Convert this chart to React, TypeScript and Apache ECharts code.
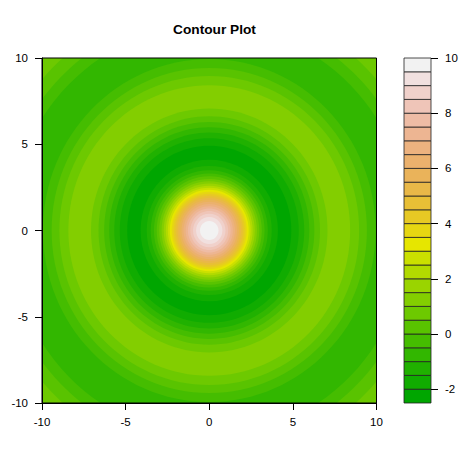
import React, { useEffect, useRef } from "react";
import * as echarts from "echarts";

// ---- data ----
const chartTitle = "Contour Plot";
const axisTicks = [-10, -5, 0, 5, 10];
const legendTicks = [-2, 0, 2, 4, 6, 8, 10];
// contour break levels (step 0.5)
const levels = [
  -2.5, -2, -1.5, -1, -0.5, 0, 0.5, 1, 1.5, 2, 2.5, 3, 3.5, 4, 4.5, 5, 5.5, 6,
  6.5, 7, 7.5, 8, 8.5, 9, 9.5, 10,
];
const domain = [-10, 10];
// surface plotted: z = 10 * sin(r) / r (radially symmetric)
const peak = 10;
function surface(r: number): number {
  return r === 0 ? peak : (peak * Math.sin(r)) / r;
}

// ---- terrain.colors(n) as in R ----
function hsvHex(h: number, s: number, v: number): string {
  const i = Math.floor(h * 6);
  const f = h * 6 - i;
  const p = v * (1 - s);
  const q = v * (1 - s * f);
  const t = v * (1 - s * (1 - f));
  let r = 0, g = 0, b = 0;
  switch (((i % 6) + 6) % 6) {
    case 0: r = v; g = t; b = p; break;
    case 1: r = q; g = v; b = p; break;
    case 2: r = p; g = v; b = t; break;
    case 3: r = p; g = q; b = v; break;
    case 4: r = t; g = p; b = v; break;
    default: r = v; g = p; b = q;
  }
  const hx = (x: number) => Math.round(x * 255).toString(16).padStart(2, "0");
  return "#" + hx(r) + hx(g) + hx(b);
}
function seq(a: number, b: number, n: number): number[] {
  if (n === 1) return [a];
  return Array.from({ length: n }, (_, i) => a + ((b - a) * i) / (n - 1));
}
function terrainColors(n: number): string[] {
  const k = Math.floor(n / 2);
  const out: string[] = [];
  const h1 = seq(4 / 12, 2 / 12, k), s1 = seq(1, 1, k), v1 = seq(0.65, 0.9, k);
  for (let i = 0; i < k; i++) out.push(hsvHex(h1[i], s1[i], v1[i]));
  const m = n - k + 1;
  const h2 = seq(2 / 12, 0, m), s2 = seq(1, 0, m), v2 = seq(0.9, 0.95, m);
  for (let i = 1; i < m; i++) out.push(hsvHex(h2[i], s2[i], v2[i]));
  return out;
}
const nBands = levels.length - 1;
const colors = terrainColors(nBands);

function bandOf(z: number): number {
  for (let i = 0; i < nBands; i++) {
    if (z < levels[i + 1]) return Math.max(0, i);
  }
  return nBands - 1;
}

// radial band boundaries -> list of [outerRadius, band]
function buildRings(): [number, number][] {
  const maxR = Math.hypot(domain[1], domain[1]) + 0.05;
  const step = 0.0005;
  const rings: [number, number][] = [];
  let cur = bandOf(surface(0));
  for (let r = step; r <= maxR; r += step) {
    const b = bandOf(surface(r));
    if (b !== cur) {
      rings.push([r, cur]);
      cur = b;
    }
  }
  rings.push([maxR, cur]);
  return rings.sort((a, b) => b[0] - a[0]);
}
const rings = buildRings();
const legendData = levels.slice(0, -1).map((lo, i) => [lo, levels[i + 1], i]);

const FONT = "'Liberation Sans', Arial, sans-serif";

export default function App() {
  const ref = useRef<HTMLDivElement>(null);
  useEffect(() => {
    if (!ref.current) return;
    const chart = echarts.init(ref.current, undefined, { renderer: "svg" });
    const plot = { left: 42, top: 58, width: 334.5, height: 345 };
    const leg = { left: 404, top: 58, width: 27, height: 345 };
    chart.setOption({
      animation: false,
      backgroundColor: "#ffffff",
      textStyle: { fontFamily: FONT },
      title: {
        text: chartTitle,
        left: 209.5,
        top: 17,
        textAlign: "center",
        textStyle: { fontSize: 13.7, fontWeight: "bold", color: "#000", fontFamily: FONT },
      },
      grid: [
        { ...plot, containLabel: false },
        { ...leg, containLabel: false },
      ],
      xAxis: [
        {
          gridIndex: 0,
          type: "value",
          min: domain[0],
          max: domain[1],
          interval: 5,
          z: 10,
          axisLine: { show: true, onZero: false, lineStyle: { color: "#000", width: 1 } },
          axisTick: { show: true, length: 7, lineStyle: { color: "#000" } },
          axisLabel: { margin: 13, fontSize: 11.5, color: "#000", fontFamily: FONT },
          splitLine: { show: false },
        },
        {
          gridIndex: 1,
          type: "value",
          min: 0,
          max: 1,
          show: false,
        },
      ],
      yAxis: [
        {
          gridIndex: 0,
          type: "value",
          min: domain[0],
          max: domain[1],
          interval: 5,
          z: 10,
          axisLine: { show: true, onZero: false, lineStyle: { color: "#000", width: 1 } },
          axisTick: { show: true, length: 7, lineStyle: { color: "#000" } },
          axisLabel: { margin: 14, fontSize: 11.5, color: "#000", fontFamily: FONT },
          splitLine: { show: false },
        },
        {
          gridIndex: 1,
          type: "value",
          position: "right",
          min: levels[0],
          max: levels[levels.length - 1],
          z: 10,
          axisLine: { show: false, onZero: false },
          axisTick: {
            show: true,
            inside: false,
            length: 7,
            customValues: legendTicks,
            lineStyle: { color: "#000" },
          },
          axisLabel: {
            margin: 14,
            fontSize: 11.5,
            color: "#000",
            fontFamily: FONT,
            customValues: legendTicks,
          },
          splitLine: { show: false },
        },
      ],
      series: [
        {
          type: "custom",
          xAxisIndex: 0,
          yAxisIndex: 0,
          clip: true,
          data: rings,
          renderItem: (params: any, api: any) => {
            const c = api.coord([0, 0]);
            const r = api.value(0);
            const s = api.size([r, r]);
            return {
              type: "ellipse",
              shape: { cx: c[0], cy: c[1], rx: s[0], ry: s[1] },
              style: { fill: colors[api.value(1)], stroke: null },
            };
          },
        },
        {
          type: "custom",
          xAxisIndex: 1,
          yAxisIndex: 1,
          data: legendData,
          renderItem: (params: any, api: any) => {
            const p0 = api.coord([0, api.value(0)]);
            const p1 = api.coord([1, api.value(1)]);
            return {
              type: "rect",
              shape: { x: p0[0], y: p1[1], width: p1[0] - p0[0], height: p0[1] - p1[1] },
              style: { fill: colors[api.value(2)], stroke: "#222", lineWidth: 0.8 },
            };
          },
        },
      ],
      graphic: [
        {
          type: "rect",
          z: 100,
          shape: { x: plot.left, y: plot.top, width: plot.width, height: plot.height },
          style: { fill: "none", stroke: "#000", lineWidth: 1 },
        },
      ],
    });
    return () => chart.dispose();
  }, []);
  return (
    <div
      ref={ref}
      style={{ position: "absolute", left: 0, top: 0, width: 474, height: 473 }}
    />
  );
}
